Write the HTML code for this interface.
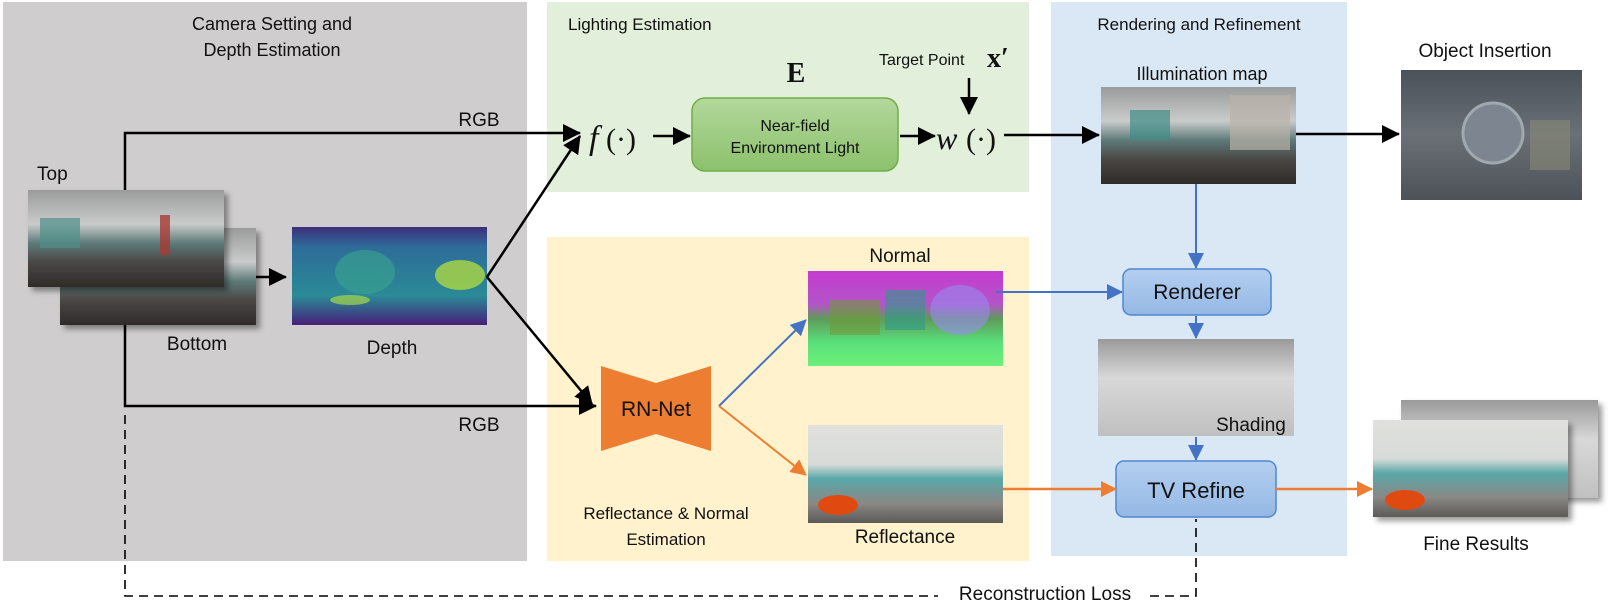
<!DOCTYPE html>
<html><head><meta charset="utf-8"><style>
html,body{margin:0;padding:0;background:#fff;width:1620px;height:602px;overflow:hidden}
text{font-family:"Liberation Sans",sans-serif;fill:#111}
.s{font-family:"Liberation Serif",serif}
</style></head><body>
<svg width="1620" height="602" viewBox="0 0 1620 602" xmlns="http://www.w3.org/2000/svg">
<defs>
<marker id="akb" markerWidth="18" markerHeight="18" refX="17" refY="9" orient="auto" markerUnits="userSpaceOnUse"><path d="M0,0 L18,9 L0,18 z" fill="#000"/></marker>
<marker id="ab" markerWidth="16" markerHeight="16" refX="15" refY="8" orient="auto" markerUnits="userSpaceOnUse"><path d="M0,0 L16,8 L0,16 z" fill="#4472c4"/></marker>
<marker id="ao" markerWidth="16" markerHeight="16" refX="15" refY="8" orient="auto" markerUnits="userSpaceOnUse"><path d="M0,0 L16,8 L0,16 z" fill="#ed7d31"/></marker>
<linearGradient id="pano" x1="0" y1="0" x2="0" y2="1"><stop offset="0" stop-color="#9a9c9c"/><stop offset="0.35" stop-color="#c9cccb"/><stop offset="0.55" stop-color="#5d7a78"/><stop offset="0.75" stop-color="#4a4644"/><stop offset="1" stop-color="#2e2b29"/></linearGradient>
<linearGradient id="depth" x1="0" y1="0" x2="0" y2="1"><stop offset="0" stop-color="#3e2e7a"/><stop offset="0.2" stop-color="#2e6c99"/><stop offset="0.7" stop-color="#2a8a96"/><stop offset="1" stop-color="#46207a"/></linearGradient>
<linearGradient id="norm" x1="0" y1="0" x2="0" y2="1"><stop offset="0" stop-color="#c43bd0"/><stop offset="0.35" stop-color="#b355c8"/><stop offset="0.5" stop-color="#5f9a5a"/><stop offset="0.75" stop-color="#59e07a"/><stop offset="1" stop-color="#6df07a"/></linearGradient>
<linearGradient id="refl" x1="0" y1="0" x2="0" y2="1"><stop offset="0" stop-color="#e0e0dc"/><stop offset="0.4" stop-color="#d7dbd8"/><stop offset="0.55" stop-color="#5aa7a8"/><stop offset="0.8" stop-color="#8a8884"/><stop offset="1" stop-color="#5c5a57"/></linearGradient>
<linearGradient id="shad" x1="0" y1="0" x2="0" y2="1"><stop offset="0" stop-color="#9a9a9a"/><stop offset="0.4" stop-color="#d8d8d8"/><stop offset="1" stop-color="#c0c0c0"/></linearGradient>
<linearGradient id="obj" x1="0" y1="0" x2="0" y2="1"><stop offset="0" stop-color="#4a5158"/><stop offset="0.5" stop-color="#6a7076"/><stop offset="1" stop-color="#4c5258"/></linearGradient>
<linearGradient id="nf" x1="0" y1="0" x2="0" y2="1"><stop offset="0" stop-color="#b3d89c"/><stop offset="1" stop-color="#8cc16c"/></linearGradient>
<linearGradient id="bx" x1="0" y1="0" x2="0" y2="1"><stop offset="0" stop-color="#b4cff0"/><stop offset="1" stop-color="#94b8e4"/></linearGradient>
<filter id="sh" x="-10%" y="-10%" width="130%" height="130%"><feDropShadow dx="4" dy="4" stdDeviation="3" flood-color="#000" flood-opacity="0.4"/></filter>
</defs>

<rect x="3" y="2" width="524" height="559" fill="#cfcdce"/>
<rect x="547" y="2" width="482" height="190" fill="#e2efda"/>
<rect x="547" y="237" width="482" height="324" fill="#fff2cc"/>
<rect x="1051" y="2" width="296" height="554" fill="#dae8f5"/>

<text x="272" y="30" font-size="18" text-anchor="middle">Camera Setting and</text>
<text x="272" y="56" font-size="18" text-anchor="middle">Depth Estimation</text>
<text x="568" y="30" font-size="17">Lighting Estimation</text>
<text x="1199" y="30" font-size="17" text-anchor="middle">Rendering and Refinement</text>
<text x="1485" y="57" font-size="19" text-anchor="middle">Object Insertion</text>

<text x="796" y="82" class="s" font-size="28" font-weight="bold" text-anchor="middle">E</text>
<text x="879" y="65" font-size="16">Target Point</text>
<text x="987" y="67" class="s" font-size="28" font-weight="bold">x′</text>
<line x1="969" y1="78" x2="969" y2="114" stroke="#000" stroke-width="2.5" marker-end="url(#akb)"/>
<rect x="692" y="98" width="206" height="73" rx="13" fill="url(#nf)" stroke="#70ad47" stroke-width="1.5"/>
<text x="795" y="131" font-size="16" text-anchor="middle">Near-field</text>
<text x="795" y="153" font-size="16" text-anchor="middle">Environment Light</text>
<text x="589" y="149" class="s" font-size="34" font-style="italic">f</text>
<text x="606" y="149" class="s" font-size="30">(·)</text>
<line x1="653" y1="136" x2="690" y2="136" stroke="#000" stroke-width="2.5" marker-end="url(#akb)"/>
<line x1="900" y1="136" x2="935" y2="136" stroke="#000" stroke-width="2.5" marker-end="url(#akb)"/>
<text x="936" y="149" class="s" font-size="32" font-style="italic">w</text>
<text x="966" y="149" class="s" font-size="30">(·)</text>
<line x1="1004" y1="135" x2="1099" y2="135" stroke="#000" stroke-width="2.5" marker-end="url(#akb)"/>

<text x="1202" y="80" font-size="18" text-anchor="middle">Illumination map</text>
<rect x="1101" y="87" width="195" height="97" fill="url(#pano)"/>
<rect x="1130" y="110" width="40" height="30" fill="#3f8c86" opacity="0.7"/>
<rect x="1230" y="95" width="60" height="55" fill="#b9b2a8" opacity="0.7"/>
<line x1="1296" y1="134" x2="1399" y2="134" stroke="#000" stroke-width="2.5" marker-end="url(#akb)"/>
<rect x="1401" y="70" width="181" height="130" fill="url(#obj)"/>
<circle cx="1493" cy="133" r="30" fill="#7d8590" stroke="#a0a8b0" stroke-width="3"/>
<rect x="1530" y="120" width="40" height="50" fill="#8b8a78" opacity="0.6"/>

<text x="37" y="180" font-size="19">Top</text>
<rect x="60" y="228" width="196" height="97" fill="url(#pano)" filter="url(#sh)"/>
<rect x="28" y="190" width="196" height="97" fill="url(#pano)" filter="url(#sh)"/>
<rect x="40" y="218" width="40" height="30" fill="#4f8e89" opacity="0.7"/>
<rect x="160" y="215" width="10" height="40" fill="#a83a35" opacity="0.8"/>
<text x="197" y="350" font-size="19" text-anchor="middle">Bottom</text>
<line x1="256" y1="277" x2="286" y2="277" stroke="#000" stroke-width="2.5" marker-end="url(#akb)"/>
<rect x="292" y="227" width="195" height="98" fill="url(#depth)"/>
<ellipse cx="365" cy="272" rx="30" ry="22" fill="#3aa58d" opacity="0.6"/>
<ellipse cx="460" cy="275" rx="25" ry="15" fill="#b6dd3e" opacity="0.75"/>
<ellipse cx="350" cy="300" rx="20" ry="5" fill="#a7d84a" opacity="0.7"/>
<text x="392" y="354" font-size="19" text-anchor="middle">Depth</text>

<polyline points="125,190 125,133 580,133" fill="none" stroke="#000" stroke-width="2.5" marker-end="url(#akb)"/>
<text x="479" y="126" font-size="19" text-anchor="middle">RGB</text>
<line x1="487" y1="277" x2="580" y2="136" stroke="#000" stroke-width="2.5" marker-end="url(#akb)"/>
<line x1="487" y1="277" x2="592" y2="404" stroke="#000" stroke-width="2.5" marker-end="url(#akb)"/>
<polyline points="125,325 125,406 596,406" fill="none" stroke="#000" stroke-width="2.5" marker-end="url(#akb)"/>
<text x="479" y="431" font-size="19" text-anchor="middle">RGB</text>

<polygon points="601,366 656,383 711,366 711,451 656,434 601,451" fill="#ed7d31"/>
<text x="656" y="416" font-size="21" text-anchor="middle">RN-Net</text>
<line x1="719" y1="406" x2="806" y2="320" stroke="#4472c4" stroke-width="2" marker-end="url(#ab)"/>
<line x1="719" y1="406" x2="806" y2="475" stroke="#ed7d31" stroke-width="2" marker-end="url(#ao)"/>

<text x="900" y="262" font-size="19" text-anchor="middle">Normal</text>
<rect x="808" y="271" width="195" height="95" fill="url(#norm)"/>
<rect x="830" y="300" width="50" height="35" fill="#6f9a3a" opacity="0.6"/>
<rect x="885" y="290" width="40" height="40" fill="#2f9a8a" opacity="0.6"/>
<ellipse cx="960" cy="310" rx="30" ry="25" fill="#9a88f0" opacity="0.6"/>
<rect x="808" y="425" width="195" height="98" fill="url(#refl)"/>
<ellipse cx="838" cy="505" rx="20" ry="10" fill="#e04a10"/>
<text x="905" y="543" font-size="19" text-anchor="middle">Reflectance</text>
<text x="666" y="519" font-size="17" text-anchor="middle">Reflectance &amp; Normal</text>
<text x="666" y="545" font-size="17" text-anchor="middle">Estimation</text>

<line x1="1196" y1="184" x2="1196" y2="268" stroke="#4472c4" stroke-width="2" marker-end="url(#ab)"/>
<line x1="996" y1="292" x2="1122" y2="292" stroke="#4472c4" stroke-width="2" marker-end="url(#ab)"/>
<rect x="1123" y="269" width="148" height="46" rx="8" fill="url(#bx)" stroke="#4f86d0" stroke-width="1.5"/>
<text x="1197" y="299" font-size="21" text-anchor="middle">Renderer</text>
<line x1="1196" y1="316" x2="1196" y2="338" stroke="#4472c4" stroke-width="2" marker-end="url(#ab)"/>
<rect x="1098" y="339" width="196" height="97" fill="url(#shad)"/>
<text x="1251" y="431" font-size="19" text-anchor="middle">Shading</text>
<line x1="1196" y1="437" x2="1196" y2="460" stroke="#4472c4" stroke-width="2" marker-end="url(#ab)"/>
<rect x="1116" y="461" width="160" height="56" rx="8" fill="url(#bx)" stroke="#4f86d0" stroke-width="1.5"/>
<text x="1196" y="498" font-size="22" text-anchor="middle">TV Refine</text>
<line x1="1003" y1="489" x2="1116" y2="489" stroke="#ed7d31" stroke-width="2.5" marker-end="url(#ao)"/>
<line x1="1276" y1="489" x2="1372" y2="489" stroke="#ed7d31" stroke-width="2.5" marker-end="url(#ao)"/>

<rect x="1401" y="400" width="197" height="98" fill="url(#shad)" filter="url(#sh)"/>
<rect x="1373" y="420" width="195" height="97" fill="url(#refl)" filter="url(#sh)"/>
<ellipse cx="1405" cy="500" rx="20" ry="10" fill="#e04a10"/>
<text x="1476" y="550" font-size="19" text-anchor="middle">Fine Results</text>

<polyline points="125,415 125,596 938,596" fill="none" stroke="#000" stroke-width="1.6" stroke-dasharray="9,6"/>
<polyline points="1150,596 1196,596 1196,519" fill="none" stroke="#000" stroke-width="1.6" stroke-dasharray="9,6"/>
<text x="1045" y="600" font-size="19" text-anchor="middle">Reconstruction Loss</text>
</svg>
</body></html>
